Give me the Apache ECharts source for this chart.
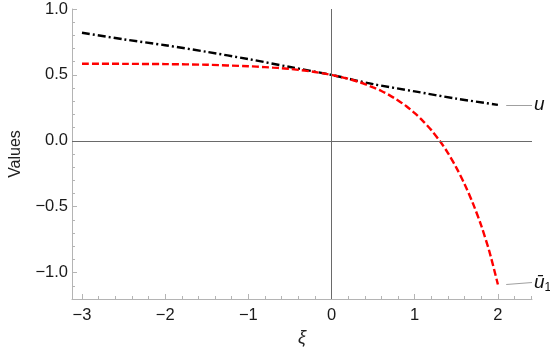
<!DOCTYPE html>
<html>
<head>
<meta charset="utf-8">
<script src="https://cdn.jsdelivr.net/npm/echarts@6/dist/echarts.min.js"></script>
<style>html,body{margin:0;padding:0;background:#fff}#c{width:550px;height:355px}</style>
</head>
<body>
<div id="c"></div>
<script>
// ---- data ----
var xiU = [-3, -2.5, -2, -1.5, -1, -0.5, 0, 0.5, 1, 1.5, 2];
var uVals = [0.82, 0.77, 0.725, 0.675, 0.62, 0.56, 0.5, 0.43, 0.375, 0.32, 0.273];
var xiBar = [-3, -2.5, -2, -1.5, -1, -0.9, -0.8, -0.7, -0.6, -0.5, -0.4, -0.3, -0.2, -0.1, 0, 0.1, 0.2, 0.3, 0.4, 0.5, 0.6, 0.7, 0.8, 0.9, 1, 1.1, 1.2, 1.3, 1.4, 1.5, 1.6, 1.7, 1.8, 1.9, 2];
var uBarVals = [0.585, 0.584, 0.582, 0.577, 0.566, 0.563, 0.559, 0.555, 0.551, 0.545, 0.538, 0.531, 0.522, 0.512, 0.5, 0.486, 0.471, 0.452, 0.431, 0.405, 0.378, 0.345, 0.306, 0.262, 0.21, 0.15, 0.081, 0.0, -0.093, -0.203, -0.329, -0.475, -0.644, -0.845, -1.09];
var xMajor = [-3, -2, -1, 0, 1, 2];
var xMinor = [-3, -2.8, -2.6, -2.4, -2.2, -2, -1.8, -1.6, -1.4, -1.2, -1, -0.8, -0.6, -0.4, -0.2, 0, 0.2, 0.4, 0.6, 0.8, 1, 1.2, 1.4, 1.6, 1.8, 2, 2.2, 2.4];
var yMajor = [-1, -0.5, 0, 0.5, 1];
var yMinor = [-1.2, -1.1, -1, -0.9, -0.8, -0.7, -0.6, -0.5, -0.4, -0.3, -0.2, -0.1, 0, 0.1, 0.2, 0.3, 0.4, 0.5, 0.6, 0.7, 0.8, 0.9, 1.0];
var xRange = [-3.12, 2.41];
var yRange = [-1.2, 1.0];
var labelU = 'u';
var labelBar = 'ū';
var labelBarSub = '1';
var xName = 'ξ';
var yName = 'Values';

function pairs(xs, ys) { return xs.map(function (x, i) { return [x, ys[i]]; }); }
function minus(s) { return String(s).replace('-', '\u2212'); }

var axisGray = '#b4b4b4';
var font = 'Liberation Sans, Arial, sans-serif';
var leaderStart = 2.1;
var lastU = uVals[uVals.length - 1];
var lastBar = uBarVals[uBarVals.length - 1];

var chart = echarts.init(document.getElementById('c'), null, { renderer: 'canvas' });
chart.setOption({
  animation: false,
  backgroundColor: '#fff',
  grid: { left: 66, right: 18, top: 9, bottom: 56, containLabel: false },
  xAxis: [{
    type: 'value', min: xRange[0], max: xRange[1], position: 'bottom',
    name: xName, nameLocation: 'middle', nameGap: 30,
    nameTextStyle: { fontFamily: font, fontSize: 18, fontStyle: 'italic', color: '#222' },
    axisLine: { show: true, onZero: false, lineStyle: { color: axisGray, width: 1 } },
    axisTick: { show: true, inside: true, length: 5, customValues: xMajor, lineStyle: { color: axisGray } },
    axisLabel: { customValues: xMajor, margin: 8, fontFamily: font, fontSize: 16.5, color: '#1a1a1a',
      formatter: function (v) { return minus(v); } },
    splitLine: { show: false }
  }, {
    type: 'value', min: xRange[0], max: xRange[1], position: 'bottom',
    axisLine: { show: false, onZero: false },
    axisTick: { show: true, inside: true, length: 3, customValues: xMinor, lineStyle: { color: axisGray } },
    axisLabel: { show: false },
    splitLine: { show: false }
  }],
  yAxis: [{
    type: 'value', min: yRange[0], max: yRange[1], position: 'left',
    name: yName, nameLocation: 'middle', nameGap: 48, nameRotate: 90,
    nameTextStyle: { fontFamily: font, fontSize: 16, color: '#222' },
    axisLine: { show: true, onZero: false, lineStyle: { color: axisGray, width: 1 } },
    axisTick: { show: true, inside: true, length: 5, customValues: yMajor, lineStyle: { color: axisGray } },
    axisLabel: { customValues: yMajor, margin: 4, fontFamily: font, fontSize: 16.5, color: '#1a1a1a',
      formatter: function (v) { return minus(v.toFixed(1)); } },
    splitLine: { show: false }
  }, {
    type: 'value', min: yRange[0], max: yRange[1], position: 'left',
    axisLine: { show: false, onZero: false },
    axisTick: { show: true, inside: true, length: 3, customValues: yMinor, lineStyle: { color: axisGray } },
    axisLabel: { show: false },
    splitLine: { show: false }
  }],
  series: [{
    type: 'line', data: [], z: 1, silent: true,
    markLine: {
      silent: true, symbol: ['none', 'none'], animation: false,
      label: { show: false },
      lineStyle: { color: '#6a6a6a', width: 1, type: 'solid' },
      data: [{ xAxis: 0 }, { yAxis: 0 }]
    }
  }, {
    name: 'u', type: 'line', data: pairs(xiU, uVals), z: 3, smooth: 0.3,
    showSymbol: false, symbol: 'none',
    lineStyle: { color: '#000', width: 2.4, type: [8, 3, 2, 3] },
    markLine: {
      silent: true, symbol: ['none', 'none'],
      lineStyle: { color: '#a0a0a0', width: 1, type: 'solid' },
      label: { show: true, position: 'end', distance: 2, formatter: labelU,
        fontFamily: font, fontSize: 19, fontStyle: 'italic', color: '#111' },
      data: [[{ coord: [leaderStart, lastU] }, { coord: [xRange[1], lastU] }]]
    }
  }, {
    name: 'ubar', type: 'line', data: pairs(xiBar, uBarVals), z: 3, smooth: 0.3,
    showSymbol: false, symbol: 'none',
    lineStyle: { color: '#ff0000', width: 2.4, type: [7, 3] },
    markLine: {
      silent: true, symbol: ['none', 'none'],
      lineStyle: { color: '#a0a0a0', width: 1, type: 'solid' },
      label: { show: true, position: 'end', distance: 2,
        formatter: '{a|' + labelBar + '}{b|' + labelBarSub + '}',
        rich: {
          a: { fontFamily: font, fontSize: 19, fontStyle: 'italic', color: '#111' },
          b: { fontFamily: font, fontSize: 12, color: '#111', padding: [10, 0, 0, 0] }
        } },
      data: [[{ coord: [leaderStart, lastBar] }, { coord: [xRange[1], lastBar + 0.015] }]]
    }
  }]
});
</script>
</body>
</html>
